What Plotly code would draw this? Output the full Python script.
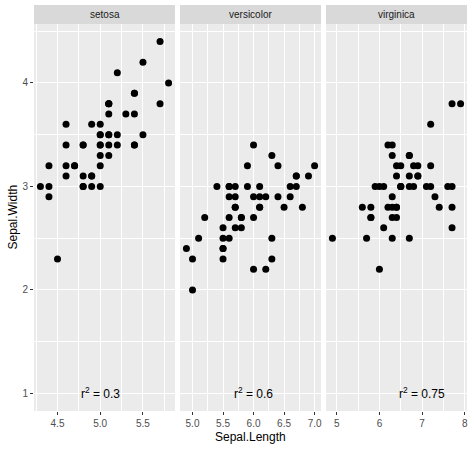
import plotly.graph_objects as go

# iris sepal measurements by species
species = ["setosa", "versicolor", "virginica"]

setosa_length = [5.1, 4.9, 4.7, 4.6, 5.0, 5.4, 4.6, 5.0, 4.4, 4.9, 5.4, 4.8, 4.8, 4.3, 5.8, 5.7, 5.4,
                 5.1, 5.7, 5.1, 5.4, 5.1, 4.6, 5.1, 4.8, 5.0, 5.0, 5.2, 5.2, 4.7, 4.8, 5.4, 5.2, 5.5,
                 4.9, 5.0, 5.5, 4.9, 4.4, 5.1, 5.0, 4.5, 4.4, 5.0, 5.1, 4.8, 5.1, 4.6, 5.3, 5.0]
setosa_width = [3.5, 3.0, 3.2, 3.1, 3.6, 3.9, 3.4, 3.4, 2.9, 3.1, 3.7, 3.4, 3.0, 3.0, 4.0, 4.4, 3.9,
                3.5, 3.8, 3.8, 3.4, 3.7, 3.6, 3.3, 3.4, 3.0, 3.4, 3.5, 3.4, 3.2, 3.1, 3.4, 4.1, 4.2,
                3.1, 3.2, 3.5, 3.6, 3.0, 3.4, 3.5, 2.3, 3.2, 3.5, 3.8, 3.0, 3.8, 3.2, 3.7, 3.3]

versicolor_length = [7.0, 6.4, 6.9, 5.5, 6.5, 5.7, 6.3, 4.9, 6.6, 5.2, 5.0, 5.9, 6.0, 6.1, 5.6, 6.7, 5.6,
                     5.8, 6.2, 5.6, 5.9, 6.1, 6.3, 6.1, 6.4, 6.6, 6.8, 6.7, 6.0, 5.7, 5.5, 5.5, 5.8, 6.0,
                     5.4, 6.0, 6.7, 6.3, 5.6, 5.5, 5.5, 6.1, 5.8, 5.0, 5.6, 5.7, 5.7, 6.2, 5.1, 5.7]
versicolor_width = [3.2, 3.2, 3.1, 2.3, 2.8, 2.8, 3.3, 2.4, 2.9, 2.7, 2.0, 3.0, 2.2, 2.9, 2.9, 3.1, 3.0,
                    2.7, 2.2, 2.5, 3.2, 2.8, 2.5, 2.8, 2.9, 3.0, 2.8, 3.0, 2.9, 2.6, 2.4, 2.4, 2.7, 2.7,
                    3.0, 3.4, 3.1, 2.3, 3.0, 2.5, 2.6, 3.0, 2.6, 2.3, 2.7, 3.0, 2.9, 2.9, 2.5, 2.8]

virginica_length = [6.3, 5.8, 7.1, 6.3, 6.5, 7.6, 4.9, 7.3, 6.7, 7.2, 6.5, 6.4, 6.8, 5.7, 5.8, 6.4, 6.5,
                    7.7, 7.7, 6.0, 6.9, 5.6, 7.7, 6.3, 6.7, 7.2, 6.2, 6.1, 6.4, 7.2, 7.4, 7.9, 6.4, 6.3,
                    6.1, 7.7, 6.3, 6.4, 6.0, 6.9, 6.7, 6.9, 5.8, 6.8, 6.7, 6.7, 6.3, 6.5, 6.2, 5.9]
virginica_width = [3.3, 2.7, 3.0, 2.9, 3.0, 3.0, 2.5, 2.9, 2.5, 3.6, 3.2, 2.7, 3.0, 2.5, 2.8, 3.2, 3.0,
                   3.8, 2.6, 2.2, 3.2, 2.8, 2.8, 2.7, 3.3, 3.2, 2.8, 3.0, 2.8, 3.0, 2.8, 3.8, 2.8, 2.8,
                   2.6, 3.0, 3.4, 3.1, 3.0, 3.1, 3.1, 3.1, 2.7, 3.2, 3.3, 3.0, 2.5, 3.0, 3.4, 3.0]

r2_labels = ["0.3", "0.6", "0.75"]
r2_x = [5.0, 6.0, 7.0]
r2_y = 1

lengths = [setosa_length, versicolor_length, virginica_length]
widths = [setosa_width, versicolor_width, virginica_width]

# panel layout (pixels of the 474x449 page)
W, H = 474, 449
L, R, T, B = 34, 7, 24, 38
panel_px = [(34, 175), (180, 321), (326, 467)]
plot_w = W - L - R
plot_h = H - T - B
strip_h = 19

x_ranges = [[4.225, 5.875], [4.795, 7.105], [4.75, 8.05]]
x_ticks = [[4.5, 5.0, 5.5], [5.0, 5.5, 6.0, 6.5, 7.0], [5, 6, 7, 8]]
x_minor = [[4.25, 4.75, 5.25, 5.75], [4.75, 5.25, 5.75, 6.25, 6.75], [5.5, 6.5, 7.5]]
x_fmt = [".1f", ".1f", "d"]

PANEL_BG = "#EBEBEB"
STRIP_BG = "#D9D9D9"
TICK_COL = "#4D4D4D"
FONT = "Liberation Sans, Arial, sans-serif"

fig = go.Figure()

for i, sp in enumerate(species):
    sfx = "" if i == 0 else str(i + 1)
    fig.add_trace(go.Scatter(
        x=lengths[i], y=widths[i], mode="markers",
        marker=dict(color="black", size=7),
        xaxis="x" + sfx, yaxis="y" + sfx,
        showlegend=False, hoverinfo="x+y"
    ))

layout = dict(
    width=W, height=H,
    margin=dict(l=L, r=R, t=T, b=B),
    paper_bgcolor="white",
    plot_bgcolor=PANEL_BG,
    font=dict(family=FONT, size=10, color=TICK_COL),
    showlegend=False,
)

shapes = []
annotations = []

for i, sp in enumerate(species):
    sfx = "" if i == 0 else str(i + 1)
    x0, x1 = panel_px[i]
    dom = [(x0 - L) / plot_w, (x1 - L) / plot_w]
    layout["xaxis" + sfx] = dict(
        domain=dom, range=x_ranges[i], anchor="y" + sfx,
        tickvals=x_ticks[i], tickformat=x_fmt[i],
        showgrid=True, gridcolor="white", gridwidth=1.2,
        minor=dict(tickvals=x_minor[i], showgrid=True, gridcolor="white", gridwidth=0.6, ticks=""),
        ticks="outside", ticklen=3, tickcolor="#333333", tickwidth=1,
        zeroline=False, showline=False,
        tickfont=dict(size=10, color=TICK_COL),
    )
    layout["yaxis" + sfx] = dict(
        domain=[0, 1], range=[0.83, 4.57], anchor="x" + sfx,
        tickvals=[1, 2, 3, 4],
        showgrid=True, gridcolor="white", gridwidth=1.2,
        minor=dict(tickvals=[1.5, 2.5, 3.5, 4.5], showgrid=True, gridcolor="white", gridwidth=0.6, ticks=""),
        ticks="outside" if i == 0 else "", ticklen=3, tickcolor="#333333", tickwidth=1,
        showticklabels=(i == 0),
        zeroline=False, showline=False,
        tickfont=dict(size=10, color=TICK_COL),
    )
    if i > 0:
        layout["yaxis" + sfx]["matches"] = "y"

    # facet strip
    shapes.append(dict(
        type="rect", xref="paper", yref="paper",
        x0=dom[0], x1=dom[1], y0=1, y1=1 + strip_h / plot_h,
        fillcolor=STRIP_BG, line=dict(width=0), layer="below"
    ))
    annotations.append(dict(
        text=sp, xref="paper", yref="paper",
        x=(dom[0] + dom[1]) / 2, y=1 + strip_h / plot_h / 2,
        xanchor="center", yanchor="middle", showarrow=False,
        font=dict(size=10, color="#1A1A1A", family=FONT)
    ))
    # r^2 label
    annotations.append(dict(
        text="r<sup>2</sup> = " + r2_labels[i],
        xref="x" + sfx, yref="y" + sfx, x=r2_x[i], y=r2_y,
        xanchor="center", yanchor="middle", showarrow=False,
        font=dict(size=12, color="black", family=FONT)
    ))

# axis titles
annotations.append(dict(
    text="Sepal.Length", xref="paper", yref="paper",
    x=0.5, y=-(437 - (H - B)) / plot_h, xanchor="center", yanchor="middle",
    showarrow=False, font=dict(size=12, color="black", family=FONT)
))
annotations.append(dict(
    text="Sepal.Width", xref="paper", yref="paper",
    x=-(L - 12) / plot_w, y=0.5, xanchor="center", yanchor="middle", textangle=-90,
    showarrow=False, font=dict(size=12, color="black", family=FONT)
))

layout["shapes"] = shapes
layout["annotations"] = annotations
fig.update_layout(**layout)

# drop the default page margin so the figure fills the window exactly
fig.write_html(
    "out.html",
    config={"displayModeBar": False},
    post_script="document.body.style.margin='0';document.body.style.overflow='hidden';",
)
